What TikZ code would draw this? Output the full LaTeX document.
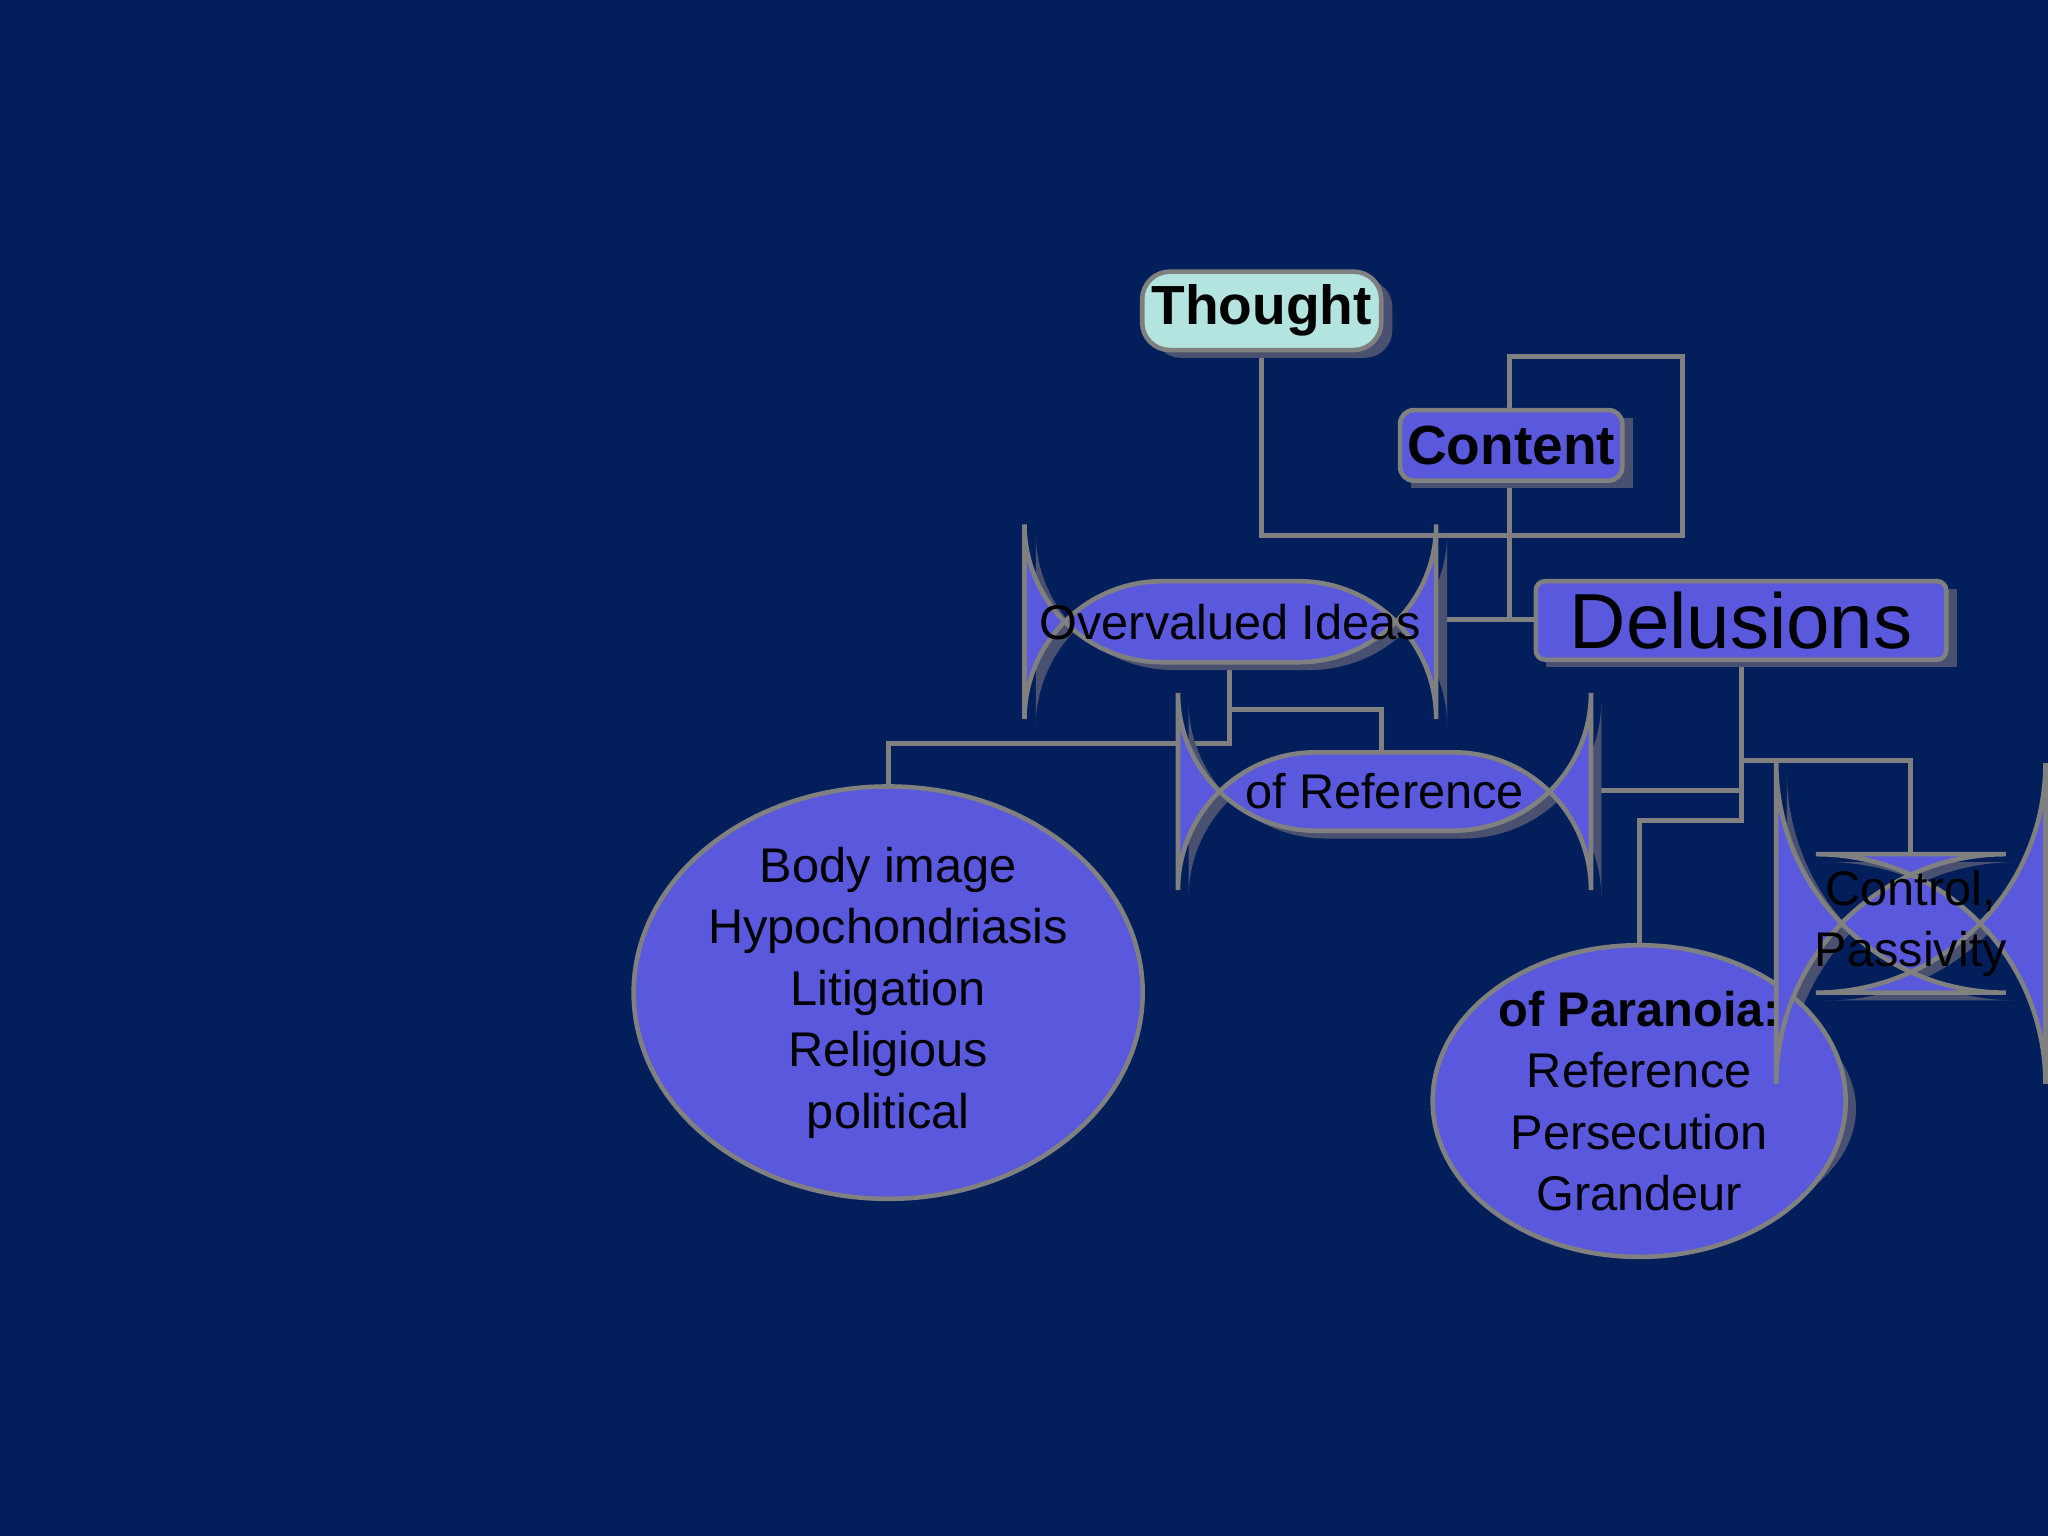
\documentclass[tikz,border=0pt]{standalone}
\usepackage{fontspec}
\setmainfont{Liberation Sans}
\usetikzlibrary{shapes.geometric}
\definecolor{bg}{HTML}{021F5C}
\definecolor{boxc}{HTML}{5A58DC}
\definecolor{cyanc}{HTML}{B4E4E0}
\definecolor{shad}{HTML}{4A5070}
\definecolor{linec}{HTML}{808080}
\tikzset{
  sh/.style={fill=shad,draw=none},
  bx/.style={fill=boxc,draw=linec,line width=1pt,inner sep=0pt,align=center},
  conn/.style={draw=linec,line width=1.1pt},
}
\begin{document}
\begin{tikzpicture}[x=0.01cm,y=-0.01cm]
\fill[bg] (0,0) rectangle (1568,1176);
\useasboundingbox (0,0) rectangle (1568,1176);
% connectors first
\coordinate (tb) at (966,268);
\draw[conn] (tb) -- (966,410) -- (1288,410) -- (1288,273) -- (1156,273) -- (1156,314);
\draw[conn] (1156,368) -- (1156,474);
\draw[conn] (1100,474) -- (1176,474);
\draw[conn] (941,507) -- (941,569) -- (680,569) -- (680,628);
\draw[conn] (941,543) -- (1058,543) -- (1058,576);
\draw[conn] (1333,505) -- (1333,628) -- (1255,628) -- (1255,745);
\draw[conn] (1333,582) -- (1463,582) -- (1463,654);
\draw[conn] (1218,605) -- (1333,605);
% shadows
\fill[sh,rounded corners=6] (883,214) rectangle (1066,274);
\fill[sh] (1080,320) rectangle (1250,374);
\fill[sh,rounded corners=30] (793,451) rectangle (1108,513);
\fill[sh] (1184,451) rectangle (1498,511);
\fill[sh,rounded corners=30] (910,582) rectangle (1226,642);
\fill[sh] (688,766) ellipse [x radius=158,y radius=132];
\fill[sh] (1263,849) ellipse [x radius=158,y radius=98];
\fill[sh,rounded corners=50] (1368,660) rectangle (1574,766);
% nodes
\node[bx,fill=cyanc,rounded corners=6,minimum width=183\pgflinewidth/\pgflinewidth*0.01cm,minimum height=0.6cm,font=\bfseries\fontsize{12}{14}\selectfont] (thought) at (966,238) {Thought};
\node[bx,rounded corners=3,minimum width=1.7cm,minimum height=0.54cm,font=\bfseries\fontsize{12}{14}\selectfont] (content) at (1157,341) {Content};
\node[bx,rounded corners=30,minimum width=3.15cm,minimum height=0.62cm,font=\fontsize{10.6}{13}\selectfont] (over) at (942,476) {Overvalued Ideas};
\node[bx,rounded corners=2,minimum width=3.14cm,minimum height=0.6cm,font=\fontsize{17}{20}\selectfont] (del) at (1333,475) {Delusions};
\node[bx,rounded corners=30,minimum width=3.16cm,minimum height=0.6cm,font=\fontsize{10.6}{13}\selectfont] (ref) at (1060,606) {of Reference};
\node[bx,ellipse,minimum width=3.16cm,minimum height=2.64cm,font=\fontsize{10.6}{13.4}\selectfont] (body) at (680,760) {Body image\\Hypochondriasis\\Litigation\\Religious\\political};
\node[bx,ellipse,minimum width=3.16cm,minimum height=1.96cm,font=\fontsize{10.6}{13.4}\selectfont] (para) at (1255,843) {\textbf{of Paranoia:}\\Reference\\Persecution\\Grandeur};
\node[bx,rounded corners=50,minimum width=2.06cm,minimum height=1.06cm,font=\fontsize{10.6}{13.4}\selectfont] (ctrl) at (1463,707) {Control,\\Passivity};
\end{tikzpicture}
\end{document}
